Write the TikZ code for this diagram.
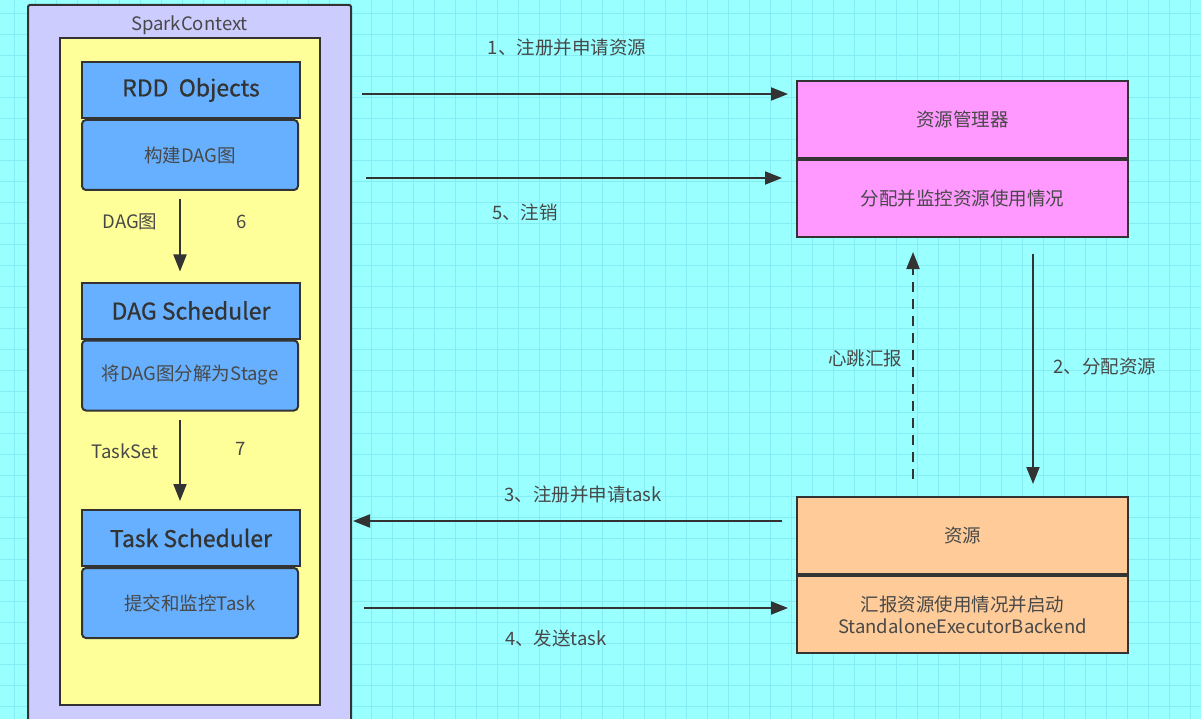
\documentclass[tikz,border=0pt]{standalone}
\usepackage{fontspec}
\newfontfamily\cjk{Noto Sans CJK SC}
\newfontfamily\cjkhead[FakeBold=0.8]{Noto Sans CJK SC}
\usetikzlibrary{positioning,arrows.meta}
\definecolor{bgc}{RGB}{153,255,255}
\definecolor{gridc}{RGB}{132,236,242}
\definecolor{ctxc}{RGB}{204,204,255}
\definecolor{yelc}{RGB}{255,255,153}
\definecolor{bluec}{RGB}{102,176,255}
\definecolor{pinkc}{RGB}{255,153,255}
\definecolor{orgc}{RGB}{255,204,153}
\definecolor{linec}{RGB}{51,51,51}
\definecolor{txtc}{RGB}{72,72,72}
\begin{document}
\begin{tikzpicture}[x=1pt, y=-1pt, font=\cjk\fontsize{18.5}{22}\selectfont, text=txtc,
	box/.style = {draw=linec, line width=2pt, inner sep=0pt},
	head/.style = {box, fill=bluec, minimum width=218pt, minimum height=56pt, text=linec, font=\cjkhead\fontsize{23}{26}\selectfont},
	body/.style = {box, fill=bluec, rounded corners=4pt, minimum width=216pt, minimum height=70pt, anchor=north west},
	res/.style = {box, minimum width=331pt, minimum height=77pt, align=center},
	arr/.style = {draw=linec, line width=2pt, -{Triangle[length=17pt,width=13pt]}}]

	\useasboundingbox (0,0) rectangle (1201,719);
	\fill[bgc] (0,0) rectangle (1201,719);
	\foreach \i in {0,...,57} \draw[gridc, line width=1pt] (14.5+21*\i,0) -- (14.5+21*\i,719);
	\foreach \j in {0,...,34} \draw[gridc, line width=1pt] (0,13.5+21*\j) -- (1201,13.5+21*\j);

	% SparkContext
	\node[box, fill=ctxc, rounded corners=2pt, minimum width=323pt, minimum height=725pt] (ctx) at (189.5,367.5) {};
	\node[below=8pt of ctx.north] (ctxname) {SparkContext};
	\node[box, fill=yelc, minimum width=260pt, minimum height=667pt] (inner) at (190,371.5) {};

	\node[head] (rdd) at (191,90) {RDD\ \ Objects};
	\node[body] (rddb) at (rdd.south west) {构建DAG图};
	\node[head] (dag) at (191,310.5) {DAG Scheduler};
	\node[body] (dagb) at (dag.south west) {将DAG图分解为Stage};
	\node[head] (task) at (191,538) {Task Scheduler};
	\node[body] (taskb) at (task.south west) {提交和监控Task};

	\draw[arr, shorten <=8pt, shorten >=10pt] ([xshift=-10pt]rddb.south) -- ([xshift=-11pt]dag.north);
	\draw[arr, shorten <=8pt, shorten >=8pt] ([xshift=-10pt]dagb.south) -- ([xshift=-11pt]task.north);
	\node (l6a) at (130,222) {DAG图};
	\node (l6b) at (242,222) {6};
	\node (l7a) at (125,451) {TaskSet};
	\node (l7b) at (241,449) {7};

	% resources
	\node[res, fill=pinkc] (rm) at (962.5,119.5) {资源管理器};
	\node[res, fill=pinkc, anchor=north] (rmb) at (rm.south) {分配并监控资源使用情况};
	\node[res, fill=orgc] (wk) at (962.5,535.5) {资源};
	\node[res, fill=orgc, anchor=north] (wkb) at (wk.south) {汇报资源使用情况并启动\\StandaloneExecutorBackend};

	\coordinate (y1) at (0,94);
	\coordinate (y5) at (0,178);
	\coordinate (y3) at (0,521);
	\coordinate (y4) at (0,608);
	\coordinate (xh) at (913,0);
	\coordinate (xa) at (1033,0);

	\draw[arr, shorten <=10pt, shorten >=8pt] (ctx.east |- y1) -- (rm.west |- y1);
	\draw[arr, shorten <=14pt, shorten >=14pt] (ctx.east |- y5) -- (rm.west |- y5);
	\draw[arr, shorten <=14pt, shorten >=1pt] (wk.west |- y3) -- (ctx.east |- y3);
	\draw[arr, shorten <=12pt, shorten >=8pt] (ctx.east |- y4) -- (wkb.west |- y4);
	\draw[arr, dash pattern=on 10pt off 7pt, shorten <=17pt, shorten >=14pt] (wk.north -| xh) -- (rmb.south -| xh);
	\draw[arr, shorten <=16pt, shorten >=12pt] (rmb.south -| xa) -- (wk.north -| xa);

	\node (l1) at (567,48) {1、注册并申请资源};
	\node (l5) at (525,212) {5、注销};
	\node (lh) at (865,358) {心跳汇报};
	\node (l2) at (1105,367) {2、分配资源};
	\node (l3) at (583,494) {3、注册并申请task};
	\node (l4) at (556,638) {4、发送task};
\end{tikzpicture}
\end{document}
